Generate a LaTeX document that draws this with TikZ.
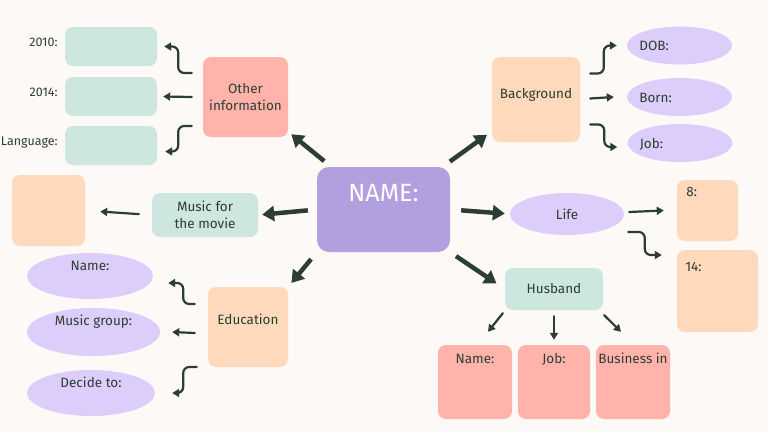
\documentclass[tikz,border=0pt]{standalone}
\usepackage{fontspec}
\setmainfont{Fira Sans}
\usetikzlibrary{arrows.meta,shapes.geometric}

\definecolor{paper}{HTML}{FDF9F6}
\definecolor{ink}{HTML}{2C3D33}
\definecolor{mint}{HTML}{CDE6DF}
\definecolor{peach}{HTML}{FFD9BB}
\definecolor{salmon}{HTML}{FFB3AB}
\definecolor{lilac}{HTML}{DDCDFB}
\definecolor{violet}{HTML}{B29FDE}

\begin{document}
\begin{tikzpicture}[
    x=1pt, y=-1pt,
    every node/.style={font=\fontsize{13.5}{16.5}\selectfont, text=ink},
    card/.style={rectangle, rounded corners=8pt, inner sep=0pt, align=center},
    tealbox/.style={card, fill=mint},
    peachbox/.style={card, fill=peach},
    pinkbox/.style={card, fill=salmon, minimum height=74pt},
    yearbox/.style={tealbox, minimum width=92pt, minimum height=39pt},
    bubble/.style={ellipse, inner sep=0pt, fill=lilac, align=center},
    slot/.style={bubble, minimum width=105pt, minimum height=38pt},
    tag/.style={label={[anchor=base east, inner sep=1pt, xshift=-6pt, font=\fontsize{12.5}{15}\selectfont]west:{#1}}},
    lead/.style={label={[anchor=base west, shift={(9pt,-5pt)}]west:{#1}}},
    head/.style 2 args={label={[anchor=base, yshift=-#2]north:{#1}}},
    mainlink/.style={-{Triangle[length=12pt, width=15pt]}, line width=4.5pt, draw=ink},
    sublink/.style={-{Triangle[length=7pt, width=8pt]}, line width=2.2pt, draw=ink, line cap=round, rounded corners=6pt}
]
\fill[paper] (0,0) rectangle (768,431);
\useasboundingbox (0,0) rectangle (768,431);

% centre
\node[card, fill=violet, rounded corners=12pt, minimum width=133pt, minimum height=85pt,
  label={[anchor=base, yshift=-35pt, text=white, font=\fontsize{25}{30}\selectfont]north:{NAME:}}] (hub) at (383.5,209.5) {};

% other information
\node[pinkbox, minimum width=85pt, minimum height=80pt] (other) at (245.5,97) {Other\\information};
\node[yearbox, tag={2010:}] (y2010) at (111,46.5) {};
\node[yearbox, tag={2014:}] (y2014) at (111,96.5) {};
\node[yearbox, tag={Language:}] (lang) at (111,145.5) {};

% background
\node[peachbox, minimum width=88pt, minimum height=85pt, text depth=12pt] (bg) at (536,99.5) {Background};
\node[slot, lead={DOB:}] (dob) at (679.5,45.5) {};
\node[slot, lead={Born:}] (born) at (679.5,97) {};
\node[slot, lead={Job:}] (job) at (680,143) {};

% music for the movie
\node[tealbox, minimum width=106pt, minimum height=44pt] (music) at (205,215) {Music for\\the movie};
\node[peachbox, minimum width=73pt, minimum height=71pt] (spare) at (48.5,210.5) {};

% life
\node[bubble, minimum width=114pt, minimum height=42pt] (life) at (567,214) {Life};
\node[peachbox, minimum width=61pt, minimum height=61pt,
  label={[anchor=base west, shift={(6pt,-17pt)}]north west:{8:}}] (eight) at (707.5,210.5) {};
\node[peachbox, minimum width=81pt, minimum height=82pt,
  label={[anchor=base west, shift={(5pt,-21.5pt)}]north west:{14:}}] (fourteen) at (717.5,291) {};

% education
\node[peachbox, minimum width=80pt, minimum height=80pt, text depth=16pt] (edu) at (248,327) {Education};
\node[bubble, minimum width=126pt, minimum height=46pt, head={Name:}{17.5pt}] (nameL) at (90,276) {};
\node[bubble, minimum width=133pt, minimum height=48pt, head={Music group:}{18pt}] (group) at (93.5,332) {};
\node[bubble, minimum width=128pt, minimum height=46pt, head={Decide to:}{18pt}] (decide) at (91,393) {};

% husband
\node[tealbox, minimum width=98pt, minimum height=42pt] (husband) at (554,289) {Husband};
\node[pinkbox, minimum width=74pt, head={Name:}{19pt}] (hname) at (475,382) {};
\node[pinkbox, minimum width=72pt, head={Job:}{19pt}] (hjob) at (554,382) {};
\node[pinkbox, minimum width=74pt, head={Business in}{19pt}] (hbiz) at (633,382) {};

% links from the centre
\draw[mainlink, shorten <=9pt, shorten >=4pt] (hub) -- (other);
\draw[mainlink, shorten <=9pt, shorten >=6pt] (hub) -- (bg);
\draw[mainlink, shorten <=9pt, shorten >=4pt] (hub.west) -- (music.east);
\draw[mainlink, shorten <=11pt, shorten >=5pt] (hub.east) -- (life.west);
\draw[mainlink, shorten <=9pt, shorten >=5pt] (hub.south west) -- (edu.north east);
\draw[mainlink, shorten <=7pt, shorten >=10pt] (hub.south east) -- (husband.west);

% small links
\draw[sublink] ([shift={(-11,-24)}]other.west) -| ([xshift=21pt]y2010.east) -- ([xshift=7pt]y2010.east);
\draw[sublink] ([xshift=-11pt]other.west) -- ([xshift=6pt]y2014.east);
\draw[sublink] ([shift={(-11,29)}]other.west) -| ([shift={(21,6)}]lang.east) -- ([shift={(8,6)}]lang.east);

\draw[sublink] ([shift={(10,-26)}]bg.east) -| ([xshift=-23pt]dob.west) -- ([xshift=-10pt]dob.west);
\draw[sublink] ([shift={(10,-1)}]bg.east) -- ([xshift=-13pt]born.west);
\draw[sublink] ([shift={(10,25)}]bg.east) -| ([shift={(-23,4)}]job.west) -- ([shift={(-10,4)}]job.west);

\draw[sublink, shorten <=13pt, shorten >=15pt] (music.west) -- (spare.east);

\draw[sublink] ([shift={(5,-2)}]life.east) -- ([xshift=-13pt]eight.west);
\draw[sublink] ([shift={(4,18)}]life.east) -| ([shift={(-32,-36)}]fourteen.west) -- ([shift={(-15,-36)}]fourteen.west);

\draw[sublink] ([shift={(-13,-23)}]edu.west) -| ([shift={(30,7)}]nameL.east) -- ([shift={(15,7)}]nameL.east);
\draw[sublink] ([shift={(-13,6)}]edu.west) -- ([xshift=12pt]group.east);
\draw[sublink] ([shift={(-11,40)}]edu.west) -| ([xshift=28pt]decide.east) -- ([xshift=17pt]decide.east);

\draw[sublink] ([shift={(-2,3)}]husband.south west) -- ([shift={(13,-13)}]hname.north);
\draw[sublink] ([yshift=-6pt]husband.south) -- ([yshift=5pt]hjob.north);
\draw[sublink] ([shift={(1,5)}]husband.south east) -- ([shift={(-12,-13)}]hbiz.north);
\end{tikzpicture}
\end{document}
